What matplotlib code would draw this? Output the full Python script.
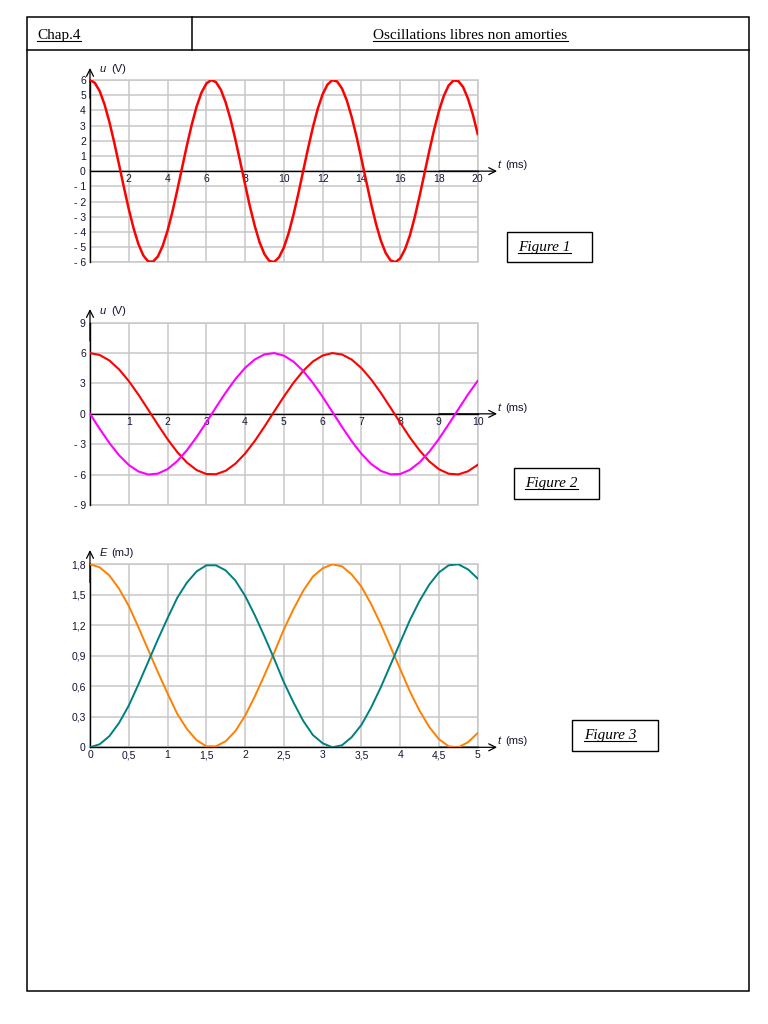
import matplotlib
import matplotlib.pyplot as plt
import numpy as np
from matplotlib.lines import Line2D
from matplotlib.patches import Rectangle

matplotlib.use("Agg")

W, H = 768, 1024

# Figure 1 : u(t), 0 -> 20 ms, one point every 0.25 ms
U1 = [6.00, 5.81, 5.27, 4.39, 3.24, 1.89, 0.42, -1.07, -2.50, -3.77,
      -4.81, -5.55, -5.94, -5.96, -5.62, -4.92, -3.92, -2.68, -1.26, 0.23,
      1.70, 3.07, 4.25, 5.17, 5.76, 6.00, 5.86, 5.36, 4.52, 3.41,
      2.08, 0.62, -0.87, -2.33, -3.61, -4.69, -5.47, -5.91, -5.98, -5.67,
      -5.03, -4.07, -2.85, -1.46, 0.03, 1.51, 2.90, 4.11, 5.06, 5.70,
      5.99, 5.90, 5.44, 4.65, 3.56, 2.27, 0.82, -0.67, -2.13, -3.45,
      -4.56, -5.38, -5.87, -5.99, -5.75, -5.14, -4.24, -3.04, -1.65, -0.17,
      1.32, 2.72, 3.96, 4.95, 5.64, 5.97, 5.93, 5.53, 4.77, 3.73,
      2.45]
FIG1_XTICKS = [2, 4, 6, 8, 10, 12, 14, 16, 18, 20]
FIG1_YTICKS = [-6, -5, -4, -3, -2, -1, 0, 1, 2, 3, 4, 5, 6]

# Figure 2 : two tensions, 0 -> 10 ms, one point every 0.25 ms
U2_RED = [6.00, 5.81, 5.27, 4.39, 3.24, 1.89, 0.42, -1.07, -2.50, -3.77,
          -4.81, -5.55, -5.94, -5.96, -5.62, -4.92, -3.92, -2.68, -1.26, 0.23,
          1.70, 3.07, 4.25, 5.17, 5.76, 6.00, 5.86, 5.36, 4.52, 3.41,
          2.08, 0.62, -0.87, -2.33, -3.61, -4.69, -5.47, -5.91, -5.98, -5.67,
          -5.03]
U2_MAGENTA = [0.00, -1.48, -2.88, -4.09, -5.05, -5.69, -5.99, -5.90, -5.46, -4.67,
              -3.59, -2.29, -0.85, 0.65, 2.10, 3.43, 4.54, 5.37, 5.87, 6.00,
              5.75, 5.15, 4.23, 3.05, 1.68, 0.20, -1.29, -2.70, -3.94, -4.94,
              -5.63, -5.97, -5.94, -5.53, -4.79, -3.75, -2.47, -1.03, 0.45, 1.92,
              3.26]
FIG2_XTICKS = [1, 2, 3, 4, 5, 6, 7, 8, 9, 10]
FIG2_YTICKS = [-9, -6, -3, 0, 3, 6, 9]

# Figure 3 : energies, 0 -> 5 ms, one point every 0.125 ms
E_ORANGE = [1.80, 1.77, 1.69, 1.56, 1.39, 1.18, 0.96, 0.74, 0.53, 0.33,
            0.18, 0.07, 0.01, 0.01, 0.06, 0.16, 0.31, 0.50, 0.71, 0.93,
            1.16, 1.36, 1.54, 1.68, 1.76, 1.80, 1.78, 1.70, 1.58, 1.41,
            1.21, 0.99, 0.77, 0.55, 0.36, 0.20, 0.08, 0.01, 0.00, 0.05,
            0.14]
E_TEAL = [0.00, 0.03, 0.11, 0.24, 0.41, 0.62, 0.84, 1.06, 1.27, 1.47,
          1.62, 1.73, 1.79, 1.79, 1.74, 1.64, 1.49, 1.30, 1.09, 0.87,
          0.64, 0.44, 0.26, 0.12, 0.04, 0.00, 0.02, 0.10, 0.22, 0.39,
          0.59, 0.81, 1.03, 1.25, 1.44, 1.60, 1.72, 1.79, 1.80, 1.75,
          1.66]
FIG3_XTICKS = [0, 0.5, 1, 1.5, 2, 2.5, 3, 3.5, 4, 4.5, 5]
FIG3_YTICKS = [0, 0.3, 0.6, 0.9, 1.2, 1.5, 1.8]

GRID = "#c8c8c8"
TICK_COLOR = "#141432"
SANS = "Liberation Sans"
SERIF = "Liberation Serif"


def fx(x):
    return x / W


def fy(y):
    return 1 - y / H


def fmt(v):
    """French style tick label: comma decimal, '- 3' for negatives."""
    s = f"{abs(v):g}".replace(".", ",")
    return "- " + s if v < 0 else s


def underline(fig, txt, gap=2):
    renderer = fig.canvas.get_renderer()
    bb = txt.get_window_extent(renderer)
    y = txt.get_position()[1] - gap / H
    fig.add_artist(Line2D([bb.x0 / W, bb.x1 / W], [y, y],
                          transform=fig.transFigure, color="black", lw=0.8))


def make_plot(fig, box, xlim, ylim, xticks, yticks, arrow_y, ylab, yunit,
              top_px, axis_px):
    left, top, right, bottom = box
    ax = fig.add_axes([fx(left), fy(bottom), (right - left) / W,
                       (bottom - top) / H])
    ax.set_xlim(*xlim)
    ax.set_ylim(*ylim)
    ax.patch.set_edgecolor(GRID)
    ax.patch.set_linewidth(1.1)
    for s in ["top", "right"]:
        ax.spines[s].set_visible(False)
    ax.spines["left"].set_color("black")
    ax.spines["left"].set_linewidth(1.0)
    ax.spines["bottom"].set_position(("data", 0))
    ax.spines["bottom"].set_color("black")
    ax.spines["bottom"].set_linewidth(1.0)
    ax.set_xticks(xticks, [fmt(v) for v in xticks])
    ax.set_yticks(yticks, [fmt(v) for v in yticks])
    ax.tick_params(length=0, labelsize=7.5, labelcolor=TICK_COLOR)
    ax.tick_params(axis="x", pad=2)
    ax.tick_params(axis="y", pad=3)
    for lab in ax.get_xticklabels() + ax.get_yticklabels():
        lab.set_family(SANS)
    ax.grid(True, color=GRID, lw=1.1)
    ax.set_axisbelow(True)

    arrow = dict(arrowstyle="->,head_length=0.5,head_width=0.25", lw=0.9,
                 color="black", shrinkA=0, shrinkB=0, mutation_scale=10)
    ax.annotate("", xy=(1.05, 0), xycoords=("axes fraction", "data"),
                xytext=(0.9, 0), textcoords=("axes fraction", "data"),
                arrowprops=arrow, annotation_clip=False)
    ax.annotate("", xy=(0, arrow_y), xycoords=("data", "axes fraction"),
                xytext=(0, 0.9), textcoords=("data", "axes fraction"),
                arrowprops=arrow, annotation_clip=False)

    fig.text(fx(100), fy(top_px), ylab, family=SANS, style="italic",
             size=8, va="center", ha="left", color=TICK_COLOR)
    fig.text(fx(111), fy(top_px), yunit, family=SANS, size=8,
             va="center", ha="left", color=TICK_COLOR)
    fig.text(fx(497), fy(axis_px - 6), "t", family=SANS, style="italic",
             size=8, va="center", ha="left", color=TICK_COLOR)
    fig.text(fx(505), fy(axis_px - 6), "(ms)", family=SANS, size=8,
             va="center", ha="left", color=TICK_COLOR)
    return ax


def figure_label(fig, text, left, top, right, bottom):
    fig.add_artist(Rectangle((fx(left), fy(bottom)), (right - left) / W,
                             (bottom - top) / H, transform=fig.transFigure,
                             fill=False, ec="black", lw=1.0))
    t = fig.text(fx((left + right) / 2 - 5), fy(top + 18.5), text,
                 family=SERIF, style="italic", size=11, ha="center",
                 va="baseline")
    underline(fig, t)


def main():
    fig = plt.figure(figsize=(W / 100, H / 100), dpi=100)

    # page frame and header
    fig.add_artist(Rectangle((fx(27), fy(991)), (749 - 27) / W, (991 - 17) / H,
                             transform=fig.transFigure, fill=False,
                             ec="black", lw=1.1))
    fig.add_artist(Line2D([fx(27), fx(749)], [fy(50), fy(50)],
                          transform=fig.transFigure, color="black", lw=1.1))
    fig.add_artist(Line2D([fx(192), fx(192)], [fy(17), fy(50)],
                          transform=fig.transFigure, color="black", lw=1.1))
    chap = fig.text(fx(37), fy(39), "Chap.4", family=SERIF, size=11,
                    va="baseline", ha="left")
    title = fig.text(fx(470.5), fy(39), "Oscillations libres non amorties",
                     family=SERIF, size=11, va="baseline", ha="center")
    underline(fig, chap)
    underline(fig, title)

    # Figure 1
    ax1 = make_plot(fig, (90, 80, 477.7, 262.3), (0, 20), (-6, 6),
                    FIG1_XTICKS, FIG1_YTICKS, 1.066, "u", "(V)", 69, 171.3)
    t1 = np.linspace(0, 20, len(U1))
    ax1.plot(t1, U1, color="#ff0000", lw=1.8, zorder=3)
    figure_label(fig, "Figure 1", 507, 232, 592, 262)

    # Figure 2
    ax2 = make_plot(fig, (90, 322.7, 477.7, 505), (0, 10), (-9, 9),
                    FIG2_XTICKS, FIG2_YTICKS, 1.075, "u", "(V)", 311, 414)
    t2 = np.linspace(0, 10, len(U2_RED))
    ax2.plot(t2, U2_RED, color="#ff0000", lw=1.5, zorder=3)
    ax2.plot(t2, U2_MAGENTA, color="#ff00ff", lw=1.5, zorder=3)
    figure_label(fig, "Figure 2", 514, 468, 599, 499)

    # Figure 3
    ax3 = make_plot(fig, (90, 564.3, 477.7, 747.3), (0, 5), (0, 1.8),
                    FIG3_XTICKS, FIG3_YTICKS, 1.078, "E", "(mJ)", 553, 747.3)
    t3 = np.linspace(0, 5, len(E_ORANGE))
    ax3.plot(t3, E_ORANGE, color="#ff8000", lw=1.4, zorder=3)
    ax3.plot(t3, E_TEAL, color="#008080", lw=1.4, zorder=3)
    figure_label(fig, "Figure 3", 572, 720, 658, 751)

    fig.savefig("out.png", dpi=100)
    return 0


if __name__ == "__main__":
    main()
